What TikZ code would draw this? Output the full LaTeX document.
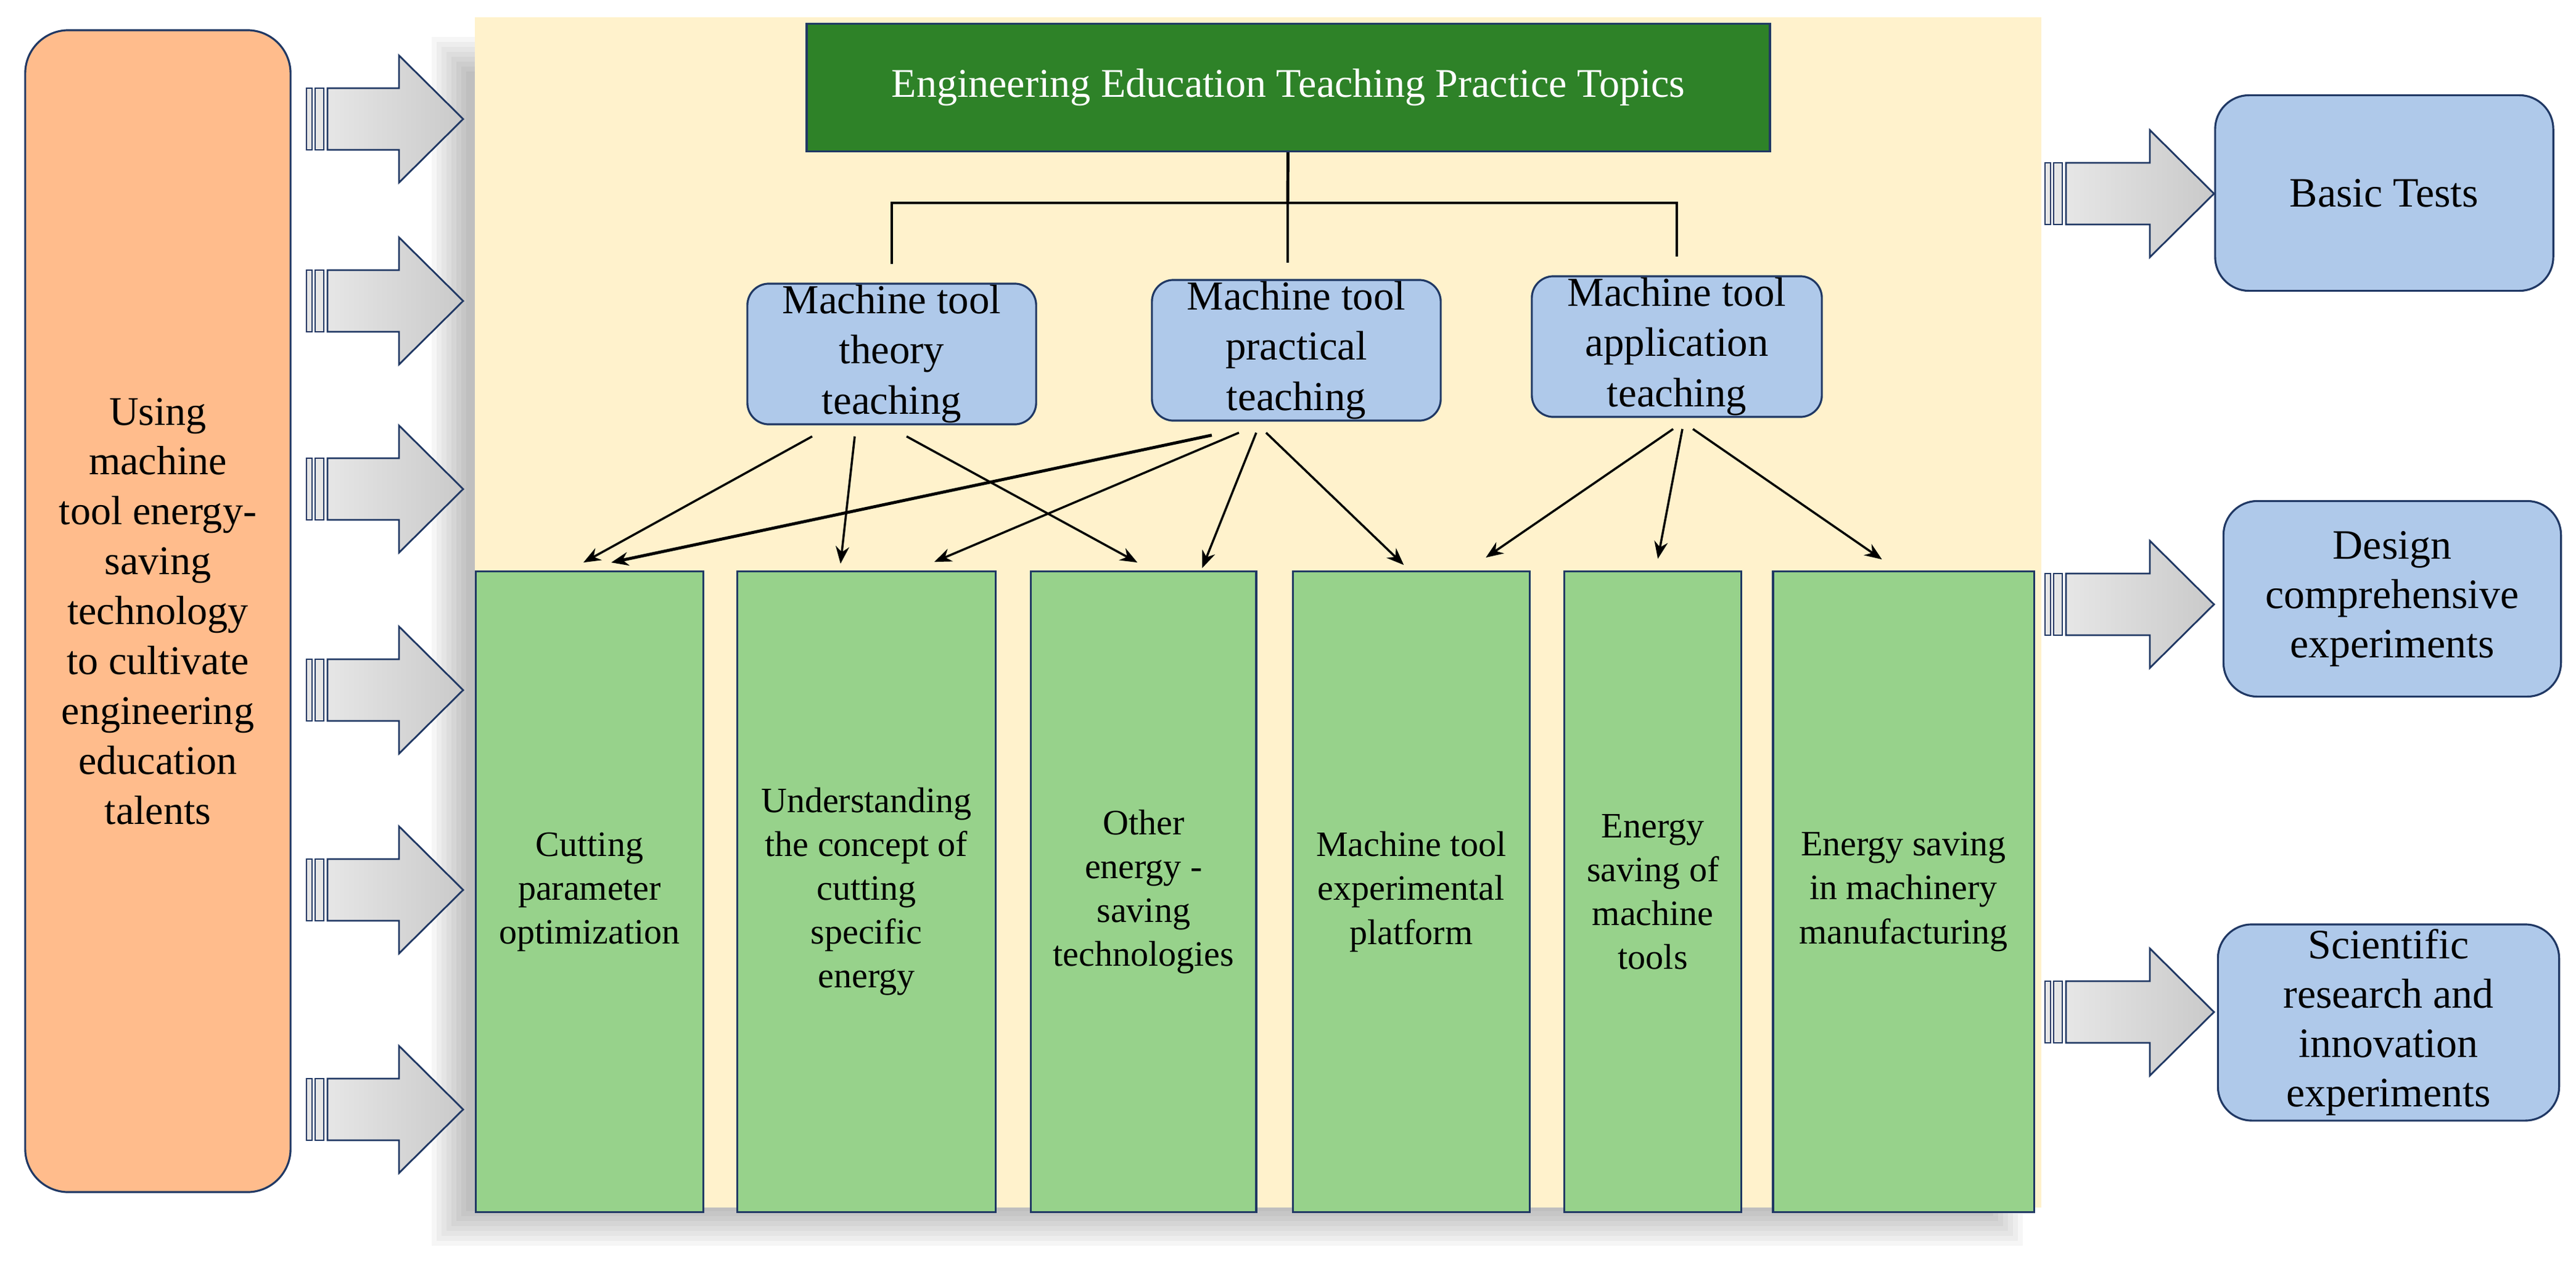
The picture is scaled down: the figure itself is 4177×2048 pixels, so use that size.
\documentclass[tikz,border=0pt]{standalone}
\usepackage{fontspec}
\setmainfont{Liberation Serif}
\usetikzlibrary{positioning,arrows.meta}

\definecolor{navy}{RGB}{32,56,100}
\definecolor{peach}{RGB}{255,188,140}
\definecolor{panelyellow}{RGB}{255,242,204}
\definecolor{topicgreen}{RGB}{46,130,40}
\definecolor{boxblue}{RGB}{175,201,234}
\definecolor{colgreen}{RGB}{151,210,139}
\definecolor{arrowgray}{RGB}{230,230,230}

% striped block arrow: tip x, tip y, body start (relative to tip)
\newcommand\fatarrow[3]{%
  \begin{scope}[shift={(#1,#2)}]
    \draw[fat] (0,0) -- (-104,-103) -- (-104,-50) -- (#3,-50) -- (#3,50) -- (-104,50) -- (-104,103) -- cycle;
    \draw[fatbar] (#3-20,-50) rectangle (#3-6,50);
    \draw[fatbar] (#3-34,-50) rectangle (#3-25,50);
  \end{scope}}

\begin{document}
\begin{tikzpicture}[
  x=0.01cm, y=-0.01cm,
  box/.style={rectangle, draw=navy, line width=0.9pt, align=center, inner sep=0pt},
  col/.style={box, fill=colgreen, minimum height=10.38cm, font=\fontsize{16.5}{20.2}\selectfont},
  teach/.style={box, fill=boxblue, rounded corners=0.35cm, minimum width=4.68cm, minimum height=2.28cm, font=\fontsize{19}{23.3}\selectfont},
  goal/.style={box, fill=boxblue, rounded corners=0.55cm, minimum width=5.48cm, minimum height=3.17cm, font=\fontsize{19.3}{22.8}\selectfont},
  tree/.style={line width=1.4pt},
  link/.style={-{Stealth[length=0.28cm,width=0.22cm]}, line width=1pt},
  fat/.style={draw=navy, line width=0.8pt, left color=arrowgray, middle color=arrowgray, right color=gray!42},
  fatbar/.style={draw=navy, line width=0.8pt, fill=arrowgray}
]
\useasboundingbox (0,0) rectangle (4177,2048);

% Panel with shadow
\foreach \k in {0,...,7}
  \fill[black, opacity=0.035] (700+8*\k,60+8*\k) rectangle (3280-8*\k,2020-8*\k);
\fill[panelyellow] (770,28) rectangle (3310,1958);

% Left side
\node[box, fill=peach, rounded corners=0.7cm, minimum width=4.3cm, minimum height=18.83cm, font=\fontsize{18.8}{23}\selectfont] (talent) at (256,991) {Using\\machine\\tool energy-\\saving\\technology\\to cultivate\\engineering\\education\\talents};

% Topics
\node[box, fill=topicgreen, text=white, minimum width=15.61cm, minimum height=2.07cm, font=\fontsize{18.8}{23}\selectfont] (topic) at (2089,142) {Engineering Education Teaching Practice Topics};
\node[teach] (theory) at (1446,574) {Machine tool\\theory\\teaching};
\node[teach] (practice) at (2102,568) {Machine tool\\practical\\teaching};
\node[teach, minimum width=4.7cm] (apply) at (2719,562) {Machine tool\\application\\teaching};

% Columns
\node[col, minimum width=3.68cm] (cut) at (956,1446) {Cutting\\parameter\\optimization};
\node[col, minimum width=4.19cm, right=0.52cm of cut] (concept) {Understanding\\the concept of\\cutting\\specific\\energy};
\node[col, minimum width=3.65cm, right=0.54cm of concept] (other) {Other\\energy -\\saving\\technologies};
\node[col, minimum width=3.84cm, right=0.56cm of other] (platform) {Machine tool\\experimental\\platform};
\node[col, minimum width=2.87cm, right=0.53cm of platform] (saving) {Energy\\saving of\\machine\\tools};
\node[col, minimum width=4.23cm, right=0.48cm of saving] (manuf) {Energy saving\\in machinery\\manufacturing};

% Results
\node[goal] (basic) at (3866,313) {Basic Tests};
\node[goal, minimum width=5.47cm] (design) at (3879,971) {Design\\comprehensive\\experiments};
\node[goal, minimum width=5.53cm, minimum height=3.18cm] (research) at (3873,1658) {Scientific\\research and\\innovation\\experiments};

% Tree
\coordinate (fork) at (2088,329);
\draw[tree] (topic) -- (fork);
\draw[tree, shorten >=0.3cm] (fork) -| (theory.north);
\draw[tree, shorten >=0.3cm] (fork) -| (apply.north);
\draw[tree, shorten >=0.26cm] (fork) -- (fork |- practice.north);

% Arrows
\foreach \a/\ax/\b/\bx/\by in {
    theory/-1.29cm/cut/-0.10cm/0.13cm,
    theory/-0.60cm/concept/-0.42cm/0.11cm,
    practice/-0.93cm/concept/1.10cm/0.14cm,
    theory/0.24cm/other/-0.10cm/0.13cm,
    practice/-0.65cm/other/0.95cm/0.04cm,
    practice/-0.49cm/platform/-0.12cm/0.09cm,
    apply/-0.06cm/platform/1.21cm/0.21cm,
    apply/0.09cm/saving/0.08cm/0.19cm,
    apply/0.26cm/manuf/-0.35cm/0.18cm}
  \draw[link] ([xshift=\ax,yshift=-0.18cm]\a.south) -- ([xshift=\bx,yshift=\by]\b.north);
\draw[link, line width=1.4pt] ([xshift=-1.37cm,yshift=-0.22cm]practice.south) -- ([xshift=0.35cm,yshift=0.13cm]cut.north);

% Block arrows
\foreach \y in {193,488,793,1119,1443,1799}
  \fatarrow{751}{\y}{-220};
\foreach \y in {314,980,1641}
  \fatarrow{3590}{\y}{-240};

\end{tikzpicture}
\end{document}
